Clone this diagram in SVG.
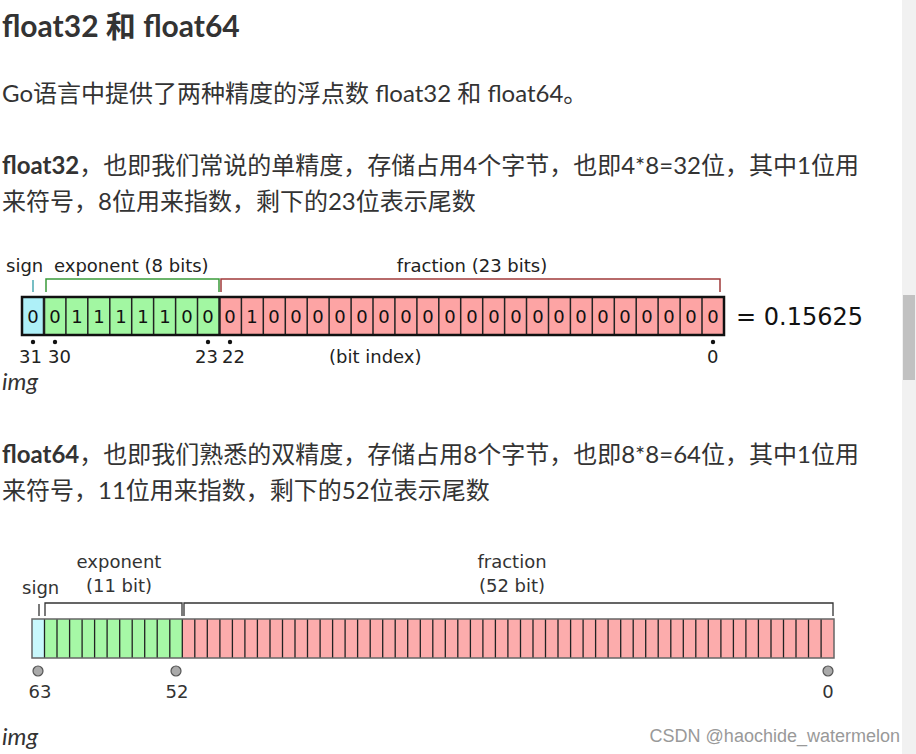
<svg xmlns="http://www.w3.org/2000/svg" width="916" height="754" viewBox="0 0 916 754">
<style>
.t{font-family:Lato,"Noto Sans CJK SC",sans-serif;fill:#333;font-size:24px}
.d{font-family:"DejaVu Sans",sans-serif;fill:#222;font-size:18px}
.d2{font-family:"DejaVu Sans",sans-serif;fill:#333;font-size:18px}
.c{font-family:"DejaVu Sans",sans-serif;fill:#111;font-size:18px;text-anchor:middle}
.cl{stroke:#222;stroke-width:1.5}
</style>
<rect width="916" height="754" fill="#fff"/>
<rect x="902" y="0" width="14" height="754" fill="#f1f1f1"/>
<rect x="903" y="295" width="12" height="85" fill="#c1c1c1"/>
<g id="text">
<text x="2" y="37" class="t" style="font-size:30px;font-weight:bold">float32 和 float64</text>
<text x="2" y="102" class="t">Go语言中提供了两种精度的浮点数 float32 和 float64。</text>
<text x="2" y="174" class="t"><tspan font-weight="bold">float32</tspan>，也即我们常说的单精度，存储占用4个字节，也即4*8=32位，其中1位用</text>
<text x="2" y="210" class="t">来符号，8位用来指数，剩下的23位表示尾数</text>
<text x="2" y="390" class="t" font-style="italic">img</text>
<text x="2" y="463" class="t"><tspan font-weight="bold">float64</tspan>，也即我们熟悉的双精度，存储占用8个字节，也即8*8=64位，其中1位用</text>
<text x="2" y="499" class="t">来符号，11位用来指数，剩下的52位表示尾数</text>
<text x="2" y="745" class="t" font-style="italic">img</text>
<text x="900" y="742" style="font-family:'Liberation Sans','Noto Sans CJK SC',sans-serif;font-size:18px;fill:#999;text-anchor:end">CSDN @haochide_watermelon</text>
</g>
<g id="float32">
<text x="6" y="272" class="d">sign</text>
<text x="54" y="272" class="d">exponent (8 bits)</text>
<text x="472" y="272" class="d" text-anchor="middle">fraction (23 bits)</text>
<path d="M33 280V292" stroke="#4aa8b0" stroke-width="1.5"/>
<path d="M46 292V279H219V292" stroke="#3a9a3a" stroke-width="1.5" fill="none"/>
<path d="M221 292V279H720V292" stroke="#a03a3a" stroke-width="1.5" fill="none"/>
<rect x="22" y="297" width="22" height="38" fill="#aef0f8"/>
<rect x="44" y="297" width="175.5" height="38" fill="#a2f7a2"/>
<rect x="219.5" y="297" width="504.5" height="38" fill="#fda4a4"/>
<g id="cells32" class="cl">
<path d="M65.9 297V335M87.8 297V335M109.8 297V335M131.7 297V335M153.6 297V335M175.6 297V335M197.5 297V335M241.4 297V335M263.3 297V335M285.3 297V335M307.2 297V335M329.1 297V335M351.1 297V335M373 297V335M394.9 297V335M416.9 297V335M438.8 297V335M460.7 297V335M482.7 297V335M504.6 297V335M526.5 297V335M548.5 297V335M570.4 297V335M592.3 297V335M614.3 297V335M636.2 297V335M658.1 297V335M680.1 297V335M702 297V335"/>
<path d="M44 297V335M219.5 297V335" stroke-width="2.5"/>
</g>
<rect x="22" y="297" width="702" height="38" fill="none" stroke="#111" stroke-width="2.5"/>
<g class="c">
<text x="33" y="323">0</text><text x="55" y="323">0</text><text x="77" y="323">1</text><text x="99" y="323">1</text><text x="121" y="323">1</text><text x="143" y="323">1</text><text x="165" y="323">1</text><text x="187" y="323">0</text><text x="208" y="323">0</text>
<text x="230" y="323">0</text><text x="252" y="323">1</text><text x="274" y="323">0</text><text x="296" y="323">0</text><text x="318" y="323">0</text><text x="340" y="323">0</text><text x="362" y="323">0</text><text x="384" y="323">0</text><text x="406" y="323">0</text><text x="428" y="323">0</text><text x="450" y="323">0</text><text x="472" y="323">0</text><text x="494" y="323">0</text><text x="516" y="323">0</text><text x="538" y="323">0</text><text x="559" y="323">0</text><text x="581" y="323">0</text><text x="603" y="323">0</text><text x="625" y="323">0</text><text x="647" y="323">0</text><text x="669" y="323">0</text><text x="691" y="323">0</text><text x="713" y="323">0</text>
</g>
<text x="736" y="325" style="font-family:'DejaVu Sans',sans-serif;font-size:24px;fill:#111">= 0.15625</text>
<g fill="#111"><circle cx="33" cy="342" r="2.2"/><circle cx="55" cy="342" r="2.2"/><circle cx="208" cy="342" r="2.2"/><circle cx="230" cy="342" r="2.2"/><circle cx="713" cy="342" r="2.2"/></g>
<text x="19" y="363" class="d">31</text><text x="48" y="363" class="d">30</text><text x="195" y="363" class="d">23</text><text x="222" y="363" class="d">22</text>
<text x="329" y="363" class="d">(bit index)</text><text x="707" y="363" class="d">0</text>
</g>
<g id="float64">
<text x="119" y="568" class="d2" text-anchor="middle">exponent</text>
<text x="119" y="592" class="d2" text-anchor="middle">(11 bit)</text>
<text x="22" y="594" class="d2">sign</text>
<text x="512" y="568" class="d2" text-anchor="middle">fraction</text>
<text x="512" y="592" class="d2" text-anchor="middle">(52 bit)</text>
<path d="M39 604V616M45 616V603H182V616M184 616V603H833V616" stroke="#333" stroke-width="1.3" fill="none"/>
<rect x="32" y="619" width="12.5" height="39" fill="#c8f8fc"/>
<rect x="44.5" y="619" width="137.5" height="39" fill="#a6f8a6"/>
<rect x="182" y="619" width="652" height="39" fill="#fcacac"/>
<path id="cells64" stroke="#222" stroke-width="1.3" d="M44.5 619V658M57 619V658M69.6 619V658M82.1 619V658M94.6 619V658M107.1 619V658M119.7 619V658M132.2 619V658M144.7 619V658M157.2 619V658M169.8 619V658M182.3 619V658M194.8 619V658M207.3 619V658M219.9 619V658M232.4 619V658M244.9 619V658M257.4 619V658M270 619V658M282.5 619V658M295 619V658M307.5 619V658M320.1 619V658M332.6 619V658M345.1 619V658M357.6 619V658M370.2 619V658M382.7 619V658M395.2 619V658M407.7 619V658M420.3 619V658M432.8 619V658M445.3 619V658M457.8 619V658M470.4 619V658M482.9 619V658M495.4 619V658M507.9 619V658M520.5 619V658M533 619V658M545.5 619V658M558 619V658M570.6 619V658M583.1 619V658M595.6 619V658M608.1 619V658M620.7 619V658M633.2 619V658M645.7 619V658M658.2 619V658M670.8 619V658M683.3 619V658M695.8 619V658M708.3 619V658M720.9 619V658M733.4 619V658M745.9 619V658M758.4 619V658M771 619V658M783.5 619V658M796 619V658M808.5 619V658M821.1 619V658"/>
<rect x="32" y="619" width="802" height="39" fill="none" stroke="#666" stroke-width="1.5"/>
<g fill="#aaa" stroke="#555" stroke-width="1.2"><circle cx="38" cy="671" r="5"/><circle cx="176" cy="671" r="5"/><circle cx="828" cy="671" r="5"/></g>
<text x="40" y="698" class="d2" text-anchor="middle">63</text><text x="177" y="698" class="d2" text-anchor="middle">52</text><text x="828" y="698" class="d2" text-anchor="middle">0</text>
</g>
</svg>
